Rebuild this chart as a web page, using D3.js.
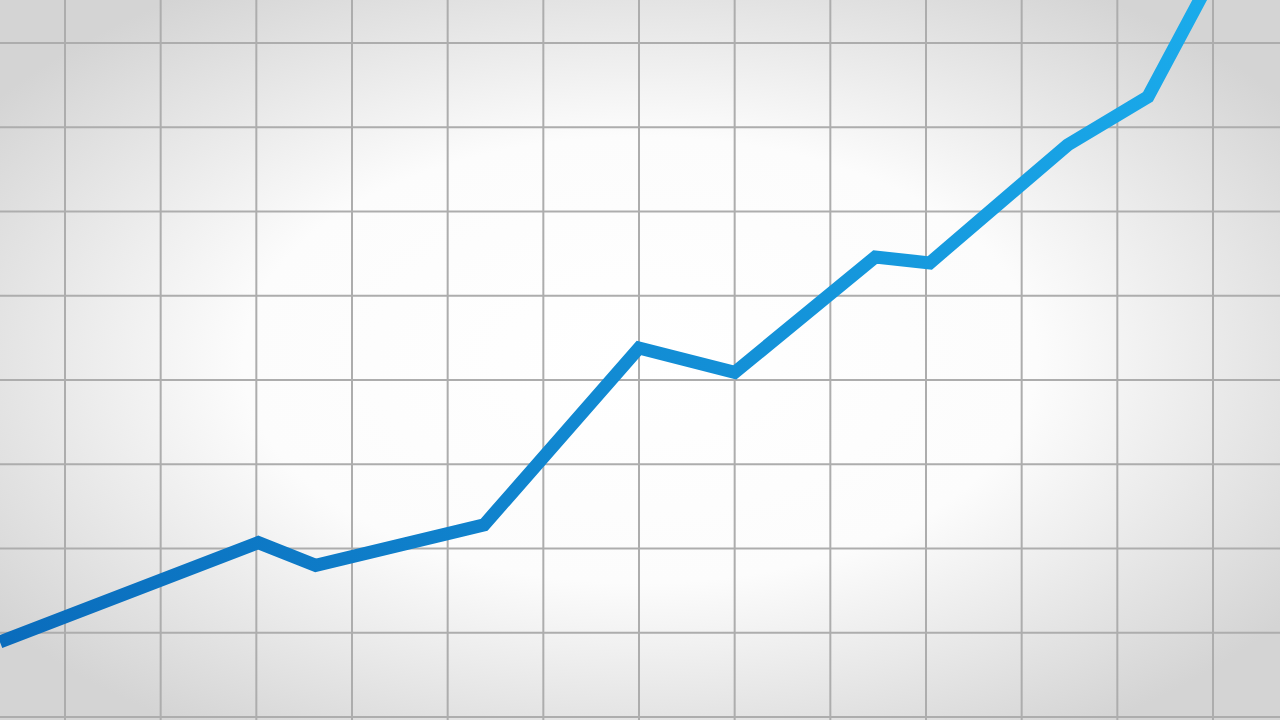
<!DOCTYPE html>
<html>
<head>
<meta charset="utf-8">
<script src="https://cdn.jsdelivr.net/npm/d3@7"></script>
<style>
html,body{margin:0;padding:0;overflow:hidden;background:#fff;}
svg{display:block;}
</style>
</head>
<body>
<svg id="chart" width="1280" height="720"></svg>
<script>
// Data (grid units: columns along x, rows along y)
const xValues = [-0.68, 2.02, 2.62, 4.38, 6.00, 7.00, 8.47, 9.04, 10.48, 11.32, 12.03];
const yValues = [0.89, 2.07, 1.80, 2.28, 4.38, 4.09, 5.46, 5.39, 6.79, 7.36, 8.87];
const xGridTicks = d3.range(0, 13);
const yGridTicks = d3.range(0, 9);

const W = 1280, H = 720;
const svg = d3.select("#chart");
const defs = svg.append("defs");

const bg = defs.append("radialGradient").attr("id", "bg")
  .attr("cx", "50%").attr("cy", "50%").attr("r", "62%");
bg.append("stop").attr("offset", "0%").attr("stop-color", "#ffffff");
bg.append("stop").attr("offset", "50%").attr("stop-color", "#fcfcfc");
bg.append("stop").attr("offset", "100%").attr("stop-color", "#d4d4d4");

const lg = defs.append("linearGradient").attr("id", "lineGrad")
  .attr("gradientUnits", "userSpaceOnUse")
  .attr("x1", 0).attr("y1", 640).attr("x2", 1200).attr("y2", 0);
lg.append("stop").attr("offset", "0%").attr("stop-color", "#0a6cbc");
lg.append("stop").attr("offset", "100%").attr("stop-color", "#1aabeb");

svg.append("rect").attr("width", W).attr("height", H).attr("fill", "url(#bg)");

const x = d3.scaleLinear().domain([0, 12]).range([65, 1213]);
const y = d3.scaleLinear().domain([0, 8]).range([717, 43]);

const grid = svg.append("g").attr("stroke", "#adadad").attr("stroke-width", 2);
grid.selectAll("line.v").data(xGridTicks).join("line").attr("class", "v")
  .attr("x1", d => x(d)).attr("x2", d => x(d)).attr("y1", 0).attr("y2", H);
grid.selectAll("line.h").data(yGridTicks).join("line").attr("class", "h")
  .attr("y1", d => y(d)).attr("y2", d => y(d)).attr("x1", 0).attr("x2", W);

const pts = xValues.map((v, i) => [v, yValues[i]]);
const line = d3.line().x(d => x(d[0])).y(d => y(d[1]));
svg.append("path").datum(pts)
  .attr("d", line)
  .attr("fill", "none")
  .attr("stroke", "url(#lineGrad)")
  .attr("stroke-width", 13)
  .attr("stroke-linejoin", "miter");
</script>
</body>
</html>
